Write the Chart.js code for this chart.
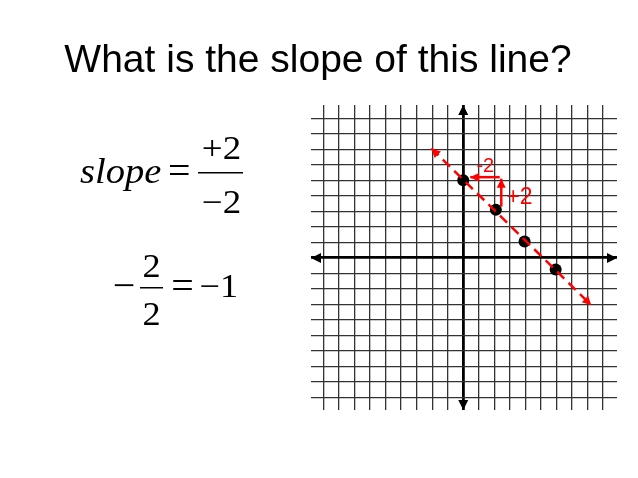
<!DOCTYPE html>
<html>
<head>
<meta charset="utf-8">
<script src="https://cdn.jsdelivr.net/npm/chart.js@4.4.1/dist/chart.umd.min.js"></script>
<style>
  html, body { margin: 0; padding: 0; background: #fff; }
  canvas { display: block; }
</style>
</head>
<body>
<canvas id="chart" width="638" height="478"></canvas>
<script>
// grid lines of the graph paper (one per unit)
const gridTicks = [-9, -8, -7, -6, -5, -4, -3, -2, -1, 0, 1, 2, 3, 4, 5, 6, 7, 8, 9]
const xRange = [-9.8, 9.9]
const yRange = [-9.8, 9.85]

// the plotted points
const pointX = [0, 2.1, 3.95, 5.95]
const pointY = [5, 3.1, 1.05, -0.75]

// dashed line through the points (arrow tips)
const lineX = [-2.05, 8.25]
const lineY = [7.05, -3.05]

// run and rise arrows
const runX = [2.35, 0.45]
const runY = [5.2, 5.2]
const riseX = [2.45, 2.45]
const riseY = [3.3, 5.1]

// labels on the arrows
const stepLabels = ["-2", "+2"]
const stepLabelX = [0.85, 2.78]
const stepLabelY = [5.55, 3.5]
const stepLabelSize = [20, 23]

const title = "What is the slope of this line?"

const toPoints = (xs, ys) => xs.map((x, i) => ({ x: x, y: ys[i] }))

function arrowHead(ctx, x1, y1, x2, y2, len, half, color) {
    const a = Math.atan2(y2 - y1, x2 - x1)
    ctx.save()
    ctx.fillStyle = color
    ctx.beginPath()
    ctx.moveTo(x2, y2)
    ctx.lineTo(x2 - len * Math.cos(a) + half * Math.sin(a), y2 - len * Math.sin(a) - half * Math.cos(a))
    ctx.lineTo(x2 - len * Math.cos(a) - half * Math.sin(a), y2 - len * Math.sin(a) + half * Math.cos(a))
    ctx.closePath()
    ctx.fill()
    ctx.restore()
}

// the equation image in the slide is a little wider than plain Times
function wideText(ctx, text, x, y, sx) {
    ctx.save()
    ctx.translate(x, y)
    ctx.scale(sx, 1)
    ctx.fillText(text, 0, 0)
    ctx.restore()
}

const arrowsPlugin = {
    id: "arrows",
    afterDatasetsDraw(chart) {
        const ctx = chart.ctx
        const area = chart.chartArea
        const x0 = chart.scales.x.getPixelForValue(0)
        const y0 = chart.scales.y.getPixelForValue(0)
        // axis arrow heads
        arrowHead(ctx, x0, y0, area.left, y0, 10, 5, "#000")
        arrowHead(ctx, x0, y0, area.right, y0, 10, 5, "#000")
        arrowHead(ctx, x0, y0, x0, area.top, 10, 5, "#000")
        arrowHead(ctx, x0, y0, x0, area.bottom, 10, 5, "#000")

        chart.data.datasets.forEach((ds, i) => {
            if (!ds.arrows) return
            const pts = chart.getDatasetMeta(i).data
            const a = pts[0], b = pts[pts.length - 1]
            const color = ds.borderColor
            arrowHead(ctx, a.x, a.y, b.x, b.y, 9, 4.5, color)
            if (ds.arrows === "both") {
                arrowHead(ctx, b.x, b.y, a.x, a.y, 9, 4.5, color)
            }
        })

        // step labels
        ctx.save()
        ctx.fillStyle = "#ff0000"
        ctx.textAlign = "left"
        ctx.textBaseline = "alphabetic"
        stepLabels.forEach((t, i) => {
            ctx.font = stepLabelSize[i] + "px 'Liberation Sans', Arial, sans-serif"
            ctx.fillText(t, chart.scales.x.getPixelForValue(stepLabelX[i]), chart.scales.y.getPixelForValue(stepLabelY[i]))
        })
        ctx.restore()
    },
    afterDraw(chart) {
        const ctx = chart.ctx
        ctx.save()
        ctx.fillStyle = "#000"
        ctx.textBaseline = "alphabetic"

        // title
        ctx.textAlign = "center"
        ctx.font = "39px 'Liberation Sans', Arial, sans-serif"
        ctx.fillText(title, 318, 71.5)

        const serif = "'Liberation Serif', 'Times New Roman', serif"

        // slope = +2 / -2
        ctx.textAlign = "left"
        ctx.font = "italic 36px " + serif
        wideText(ctx, "slope", 80, 183, 1.07)
        ctx.textAlign = "center"
        ctx.font = "38px " + serif
        wideText(ctx, "=", 179.2, 183, 1.05)
        ctx.font = "33px " + serif
        wideText(ctx, "+2", 221.5, 159, 1.12)
        wideText(ctx, "\u22122", 221.5, 212.5, 1.12)
        ctx.fillRect(198, 172, 45, 1.5)

        // -2/2 = -1
        ctx.font = "38px " + serif
        wideText(ctx, "\u2212", 124, 298, 1.05)
        ctx.font = "33px " + serif
        wideText(ctx, "2", 151.5, 277, 1.1)
        wideText(ctx, "2", 151.5, 324.5, 1.1)
        ctx.fillRect(140, 287, 23, 1.5)
        ctx.font = "38px " + serif
        wideText(ctx, "=", 182.5, 298, 1.05)
        ctx.textAlign = "left"
        ctx.font = "33px " + serif
        wideText(ctx, "\u22121", 199.5, 296.5, 1.1)
        ctx.restore()
    }
}

const gridOpts = {
    color: (c) => (c.tick && c.tick.value === 0 ? "#000" : "#333"),
    lineWidth: (c) => (c.tick && c.tick.value === 0 ? 2.8 : 1.3),
    drawTicks: false,
}

new Chart(document.getElementById("chart"), {
    type: "scatter",
    data: {
        datasets: [
            {
                label: "rise",
                data: toPoints(riseX, riseY),
                showLine: true,
                borderColor: "#ff0000",
                borderWidth: 2.5,
                pointRadius: 0,
                arrows: "end",
                order: 0,
            },
            {
                label: "run",
                data: toPoints(runX, runY),
                showLine: true,
                borderColor: "#ff0000",
                borderWidth: 2.5,
                pointRadius: 0,
                arrows: "end",
                order: 0,
            },
            {
                label: "line",
                data: toPoints(lineX, lineY),
                showLine: true,
                borderColor: "#ff0000",
                borderWidth: 2.5,
                borderDash: [10, 6],
                pointRadius: 0,
                arrows: "both",
                order: 1,
            },
            {
                label: "points",
                data: toPoints(pointX, pointY),
                showLine: false,
                pointRadius: 6,
                backgroundColor: "#000",
                borderWidth: 0,
                order: 2,
            },
        ],
    },
    options: {
        responsive: false,
        animation: false,
        layout: { padding: { left: 311, right: 21, top: 105, bottom: 68 } },
        plugins: { legend: { display: false }, tooltip: { enabled: false } },
        scales: {
            x: {
                type: "linear",
                min: xRange[0],
                max: xRange[1],
                afterBuildTicks: (s) => { s.ticks = gridTicks.map((v) => ({ value: v })) },
                ticks: { display: false },
                border: { display: false },
                grid: gridOpts,
            },
            y: {
                type: "linear",
                min: yRange[0],
                max: yRange[1],
                afterBuildTicks: (s) => { s.ticks = gridTicks.map((v) => ({ value: v })) },
                ticks: { display: false },
                border: { display: false },
                grid: gridOpts,
            },
        },
    },
    plugins: [arrowsPlugin],
})
</script>
</body>
</html>
